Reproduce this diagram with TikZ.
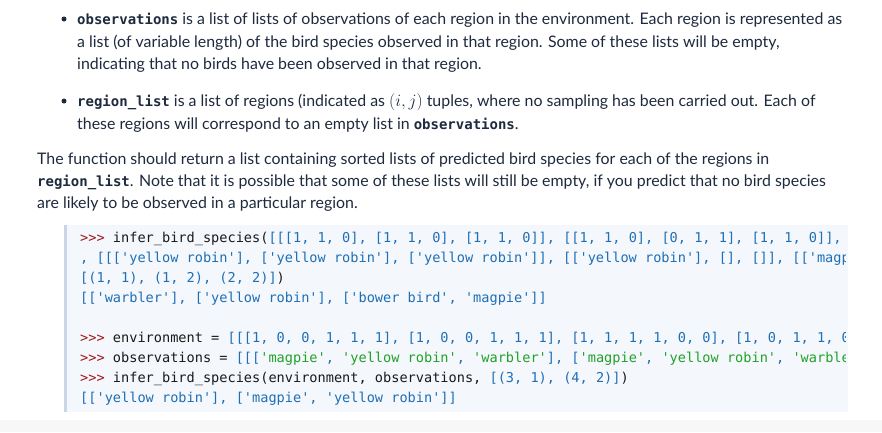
\documentclass[tikz,border=0pt]{standalone}
\usepackage{fontspec}
\setmainfont{Lato}
\newfontfamily\cf{DejaVu Sans Mono}
\definecolor{txt}{HTML}{1E2A3E}
\definecolor{cblue}{HTML}{1F6FB5}
\definecolor{cred}{HTML}{A01818}
\definecolor{cgreen}{HTML}{23A02A}
\definecolor{cblk}{HTML}{1A1A1A}
\definecolor{codebg}{HTML}{F4F7FB}
\definecolor{codebar}{HTML}{C9D6E6}
\newcommand{\cP}{\textcolor{cred}{>>>}}
\newcommand{\cB}[1]{\textcolor{cblue}{#1}}
\newcommand{\cG}[1]{\textcolor{cgreen}{#1}}
\newcommand{\ic}[1]{{\cf\bfseries\fontsize{14}{16}\selectfont #1}}
\begin{document}
\begin{tikzpicture}[x=1pt,y=-1pt,
  body/.style={anchor=base west,inner sep=0pt,text=txt,font=\fontsize{15.9}{18}\selectfont},
  code/.style={anchor=base west,inner sep=0pt,text=cblk,font=\cf\fontsize{13.6}{16}\selectfont},
  bul/.style={circle,fill=txt,inner sep=0pt,minimum size=5pt}]
\useasboundingbox (0,0) rectangle (882,432);
\fill[white] (0,0) rectangle (882,432);
\fill[black!3] (0,420) rectangle (882,432);
% bullets
\node[bul] (b1) at (64,19) {};
\node[bul] (b2) at (64,101) {};
\node[body] (l1) at (77,24) {\ic{observations} is a list of lists of observations of each region in the environment. Each region is represented as};
\node[body] (l2) at (77,47) {a list (of variable length) of the bird species observed in that region. Some of these lists will be empty,};
\node[body] (l3) at (77,69) {indicating that no birds have been observed in that region.};
\node[body] (l4) at (77,106) {\ic{region\_list} is a list of regions (indicated as {\fontsize{19}{20}\selectfont$(i,j)$} tuples, where no sampling has been carried out. Each of};
\node[body] (l5) at (77,129) {these regions will correspond to an empty list in \ic{observations}.};
\node[body] (p1) at (37,164) {The function should return a list containing sorted lists of predicted bird species for each of the regions in};
\node[body] (p2) at (37,186) {\ic{region\_list}. Note that it is possible that some of these lists will still be empty, if you predict that no bird species};
\node[body] (p3) at (37,208) {are likely to be observed in a particular region.};
% code box
\fill[codebg] (64,225) rectangle (848,412);
\fill[codebar] (64,225) rectangle (67,412);
\begin{scope}
\clip (67,225) rectangle (845,412);
\node[code] (c1) at (80,242) {\cP{} infer\_bird\_species(\cB{[[[1, 1, 0], [1, 1, 0], [1, 1, 0]], [[1, 1, 0], [0, 1, 1], [1, 1, 0]], [[1, 1, 0]]]}};
\node[code] (c2) at (80,262) {\cB{, [[['yellow robin'], ['yellow robin'], ['yellow robin']], [['yellow robin'], [], []], [['magpie']]],}};
\node[code] (c3) at (80,282) {\cB{[(1, 1), (1, 2), (2, 2)]})};
\node[code] (c4) at (80,302) {\cB{[['warbler'], ['yellow robin'], ['bower bird', 'magpie']]}};
\node[code] (c5) at (80,342) {\cP{} environment = \cB{[[[1, 0, 0, 1, 1, 1], [1, 0, 0, 1, 1, 1], [1, 1, 1, 1, 0, 0], [1, 0, 1, 1, 0, 1]]]}};
\node[code] (c6) at (80,362) {\cP{} observations = \cB{[[[}\cG{'magpie'}\cB{, }\cG{'yellow robin'}\cB{, }\cG{'warbler'}\cB{], [}\cG{'magpie'}\cB{, }\cG{'yellow robin'}\cB{, }\cG{'warbler'}\cB{]]]}};
\node[code] (c7) at (80,382) {\cP{} infer\_bird\_species(environment, observations, \cB{[(3, 1), (4, 2)]})};
\node[code] (c8) at (80,402) {\cB{[['yellow robin'], ['magpie', 'yellow robin']]}};
\end{scope}
\end{tikzpicture}
\end{document}
